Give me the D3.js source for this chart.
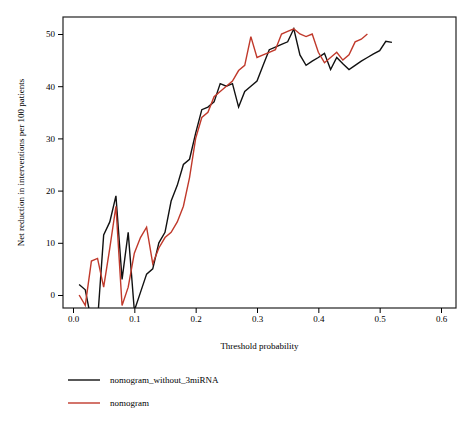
<!DOCTYPE html>
<html><head><meta charset="utf-8">
<script src="https://cdn.jsdelivr.net/npm/d3@7"></script>
<style>body{margin:0;background:#fff}text{font-family:"Liberation Serif",serif;font-size:9px}</style>
</head><body><div id="chart"></div>
<script>
const xsBlack = d3.range(1, 53).map(i => i / 100);
const noMiRNA = [2,1,-5,-5,11.5,14,19,3,12,-3,0.5,4,5,10,12,18,21,25,26,31,35.5,36,37,40.5,40,40.5,36,39,40,41,44,47,47.5,48,48.5,51,46,44,44.8,45.5,46.3,43.2,45.5,44.3,43.2,44,44.8,45.5,46.2,46.8,48.6,48.4];
const xsRed = d3.range(1, 49).map(i => i / 100);
const nomogram = [0,-2,6.5,7,1.5,9,17,-2,1.5,8,11,13,6,9,11,12,14,17,22.5,30,34,35,38,39,40,41,43,44,49.5,45.5,46,46.5,47,50,50.5,51,50,49.5,50,46.5,44.5,45.5,46.5,45,46,48.5,49,50];
const xTicks = [0,0.1,0.2,0.3,0.4,0.5,0.6];
const yTicks = [0,10,20,30,40,50];
const seriesNames = ["nomogram_without_3miRNA","nomogram"];
const colors = ["#111","#c0392b"];

const svg = d3.select("#chart").append("svg").attr("width",474).attr("height",424);
const x = d3.scaleLinear().domain([0,0.6]).range([73,441]);
const y = d3.scaleLinear().domain([0,50]).range([295,34]);
const L=63,R=456,T=17,B=308;
svg.append("clipPath").attr("id","c").append("rect").attr("x",L).attr("y",T).attr("width",R-L).attr("height",B-T);
svg.append("rect").attr("x",L).attr("y",T).attr("width",R-L).attr("height",B-T).attr("fill","none").attr("stroke","#222").attr("stroke-width",1.2);
svg.append("g").attr("transform",`translate(0,${B})`).call(d3.axisBottom(x).tickValues(xTicks).tickFormat(d3.format(".1f")).tickSize(5).tickSizeOuter(0))
  .call(g=>{g.select(".domain").remove();g.selectAll("text").style("font-size","9px");});
svg.append("g").attr("transform",`translate(${L},0)`).call(d3.axisLeft(y).tickValues(yTicks).tickSize(5).tickSizeOuter(0))
  .call(g=>{g.select(".domain").remove();g.selectAll("text").style("font-size","9px");});
const line = d3.line().x(d=>x(d[0])).y(d=>y(d[1]));
[[xsBlack,noMiRNA],[xsRed,nomogram]].forEach(([xs,vs],i)=>{
  svg.append("path").attr("clip-path","url(#c)").datum(xs.map((v,j)=>[v,vs[j]]))
    .attr("fill","none").attr("stroke",colors[i]).attr("stroke-width",1.4).attr("d",line);
});
svg.append("text").attr("x",(L+R)/2).attr("y",349).attr("text-anchor","middle").text("Threshold probability");
svg.append("text").attr("transform",`translate(24,${(T+B)/2}) rotate(-90)`).attr("text-anchor","middle").text("Net reduction in interventions per 100 patients");
seriesNames.forEach((n,i)=>{
  const yy=380+i*23;
  svg.append("line").attr("x1",68).attr("x2",100).attr("y1",yy).attr("y2",yy).attr("stroke",colors[i]).attr("stroke-width",1.4);
  svg.append("text").attr("x",110).attr("y",yy+3).text(n);
});
</script></body></html>
